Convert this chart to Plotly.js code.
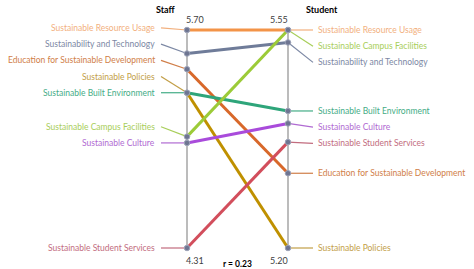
<!DOCTYPE html>
<html>
<head>
<meta charset="utf-8">
<script src="https://cdn.plot.ly/plotly-3.0.1.min.js"></script>
<style>html,body{margin:0;padding:0;background:#fff;}#chart{width:474px;height:269px;}</style>
</head>
<body>
<div id="chart"></div>
<script>
// ---- data ----
const categories = [
  'Sustainable Resource Usage',
  'Sustainability and Technology',
  'Education for Sustainable Development',
  'Sustainable Policies',
  'Sustainable Built Environment',
  'Sustainable Campus Facilities',
  'Sustainable Culture',
  'Sustainable Student Services'
];
const staff   = [5.70, 5.55, 5.45, 5.30, 5.30, 5.02, 4.98, 4.31];
const student = [5.55, 5.53, 5.32, 5.20, 5.42, 5.55, 5.40, 5.37];
const groupNames = ['Staff', 'Student'];
const correlationText = 'r = 0.23';

// ---- styles ----
const lineColors  = ['#F39448', '#6F7C99', '#D8682A', '#BF9000', '#2EA57A', '#9CCB38', '#A94BDB', '#D24E5C'];
const labelColors = ['#F2B07E', '#7C88A4', '#D07E48', '#C29E46', '#44AC86', '#A8CE5A', '#B06AD2', '#C26C7E'];
const FONT = 'Lato, "Liberation Sans", sans-serif';
const LBL_SIZE = 8.5;

// pixel geometry of the plot
const W = 474, H = 269;
const AX_L = 187, AX_R = 288, Y_TOP = 30, Y_BOT = 248;
const UX = AX_R - AX_L, UY = Y_BOT - Y_TOP;
const px2x = p => (p - AX_L) / UX;
const px2y = p => (Y_BOT - p) / UY;
const GAP = 16.2 / UY;

function normalize(arr) {
  const mn = Math.min(...arr), mx = Math.max(...arr);
  return arr.map(v => (v - mn) / (mx - mn));
}
const yL = normalize(staff);
const yR = normalize(student);

// label de-overlap: left pushes up, right pushes down
function spread(ys, dir) {
  const idx = ys.map((v, i) => i);
  const out = ys.slice();
  if (dir === 'up') {
    idx.sort((a, b) => (ys[a] - ys[b]) || (b - a));
    let prev = -Infinity;
    idx.forEach(i => { out[i] = Math.max(ys[i], prev + GAP); prev = out[i]; });
  } else {
    idx.sort((a, b) => (ys[b] - ys[a]) || (a - b));
    let prev = Infinity;
    idx.forEach(i => { out[i] = Math.min(ys[i], prev - GAP); prev = out[i]; });
  }
  return out;
}
const lblL = spread(yL, 'up');
const lblR = spread(yR, 'down');

const traces = [];
const annotations = [];
const xLeadL = px2x(161), xLeadR = px2x(313);

// axes lines
traces.push({x:[0,0], y:[0,1], mode:'lines', line:{color:'#A6A6A6', width:1.5}, hoverinfo:'skip'});
traces.push({x:[1,1], y:[0,1], mode:'lines', line:{color:'#A6A6A6', width:1.5}, hoverinfo:'skip'});

categories.forEach((c, i) => {
  traces.push({x:[xLeadL, 0], y:[lblL[i], yL[i]], mode:'lines', line:{color:labelColors[i], width:1.2}, hoverinfo:'skip'});
  traces.push({x:[1, xLeadR], y:[yR[i], lblR[i]], mode:'lines', line:{color:labelColors[i], width:1.2}, hoverinfo:'skip'});
  annotations.push({x:px2x(157), y:lblL[i], xref:'x', yref:'y', text:c, showarrow:false, xanchor:'right', yanchor:'middle',
    font:{family:FONT, size:LBL_SIZE, color:labelColors[i]}});
  annotations.push({x:px2x(316), y:lblR[i], xref:'x', yref:'y', text:c, showarrow:false, xanchor:'left', yanchor:'middle',
    font:{family:FONT, size:LBL_SIZE, color:labelColors[i]}});
});
categories.forEach((c, i) => {
  traces.push({x:[0,1], y:[yL[i], yR[i]], mode:'lines', name:c, line:{color:lineColors[i], width:3}});
});
categories.forEach((c, i) => {
  traces.push({x:[0,1], y:[yL[i], yR[i]], mode:'markers', hoverinfo:'skip',
    marker:{size:5.5, color:'#6E7591', line:{color:'#9DA3B8', width:1}}});
});

// headers and extreme values
const hdrFont = {family:FONT, size:9, color:'#000000'};
annotations.push({x:px2x(166), y:px2y(9), xref:'x', yref:'y', text:'<b>'+groupNames[0]+'</b>', showarrow:false, font:hdrFont});
annotations.push({x:px2x(322), y:px2y(9), xref:'x', yref:'y', text:'<b>'+groupNames[1]+'</b>', showarrow:false, font:hdrFont});
const valFont = {family:FONT, size:9, color:'#404040'};
annotations.push({x:px2x(195), y:px2y(19), xref:'x', yref:'y', text:Math.max(...staff).toFixed(2), showarrow:false, font:valFont});
annotations.push({x:px2x(195), y:px2y(260), xref:'x', yref:'y', text:Math.min(...staff).toFixed(2), showarrow:false, font:valFont});
annotations.push({x:px2x(279), y:px2y(19), xref:'x', yref:'y', text:Math.max(...student).toFixed(2), showarrow:false, font:valFont});
annotations.push({x:px2x(279), y:px2y(260), xref:'x', yref:'y', text:Math.min(...student).toFixed(2), showarrow:false, font:valFont});
annotations.push({x:px2x(237), y:px2y(264), xref:'x', yref:'y', text:'<b>'+correlationText+'</b>', showarrow:false,
  font:{family:FONT, size:8.5, color:'#000000'}});

const layout = {
  width: W, height: H,
  margin: {l:0, r:0, t:0, b:0},
  paper_bgcolor: '#ffffff', plot_bgcolor: '#ffffff',
  showlegend: false,
  xaxis: {range:[px2x(0), px2x(W)], visible:false, fixedrange:true},
  yaxis: {range:[px2y(H), px2y(0)], visible:false, fixedrange:true},
  annotations: annotations
};
Plotly.newPlot('chart', traces, layout, {staticPlot:true, displayModeBar:false});
</script>
</body>
</html>
